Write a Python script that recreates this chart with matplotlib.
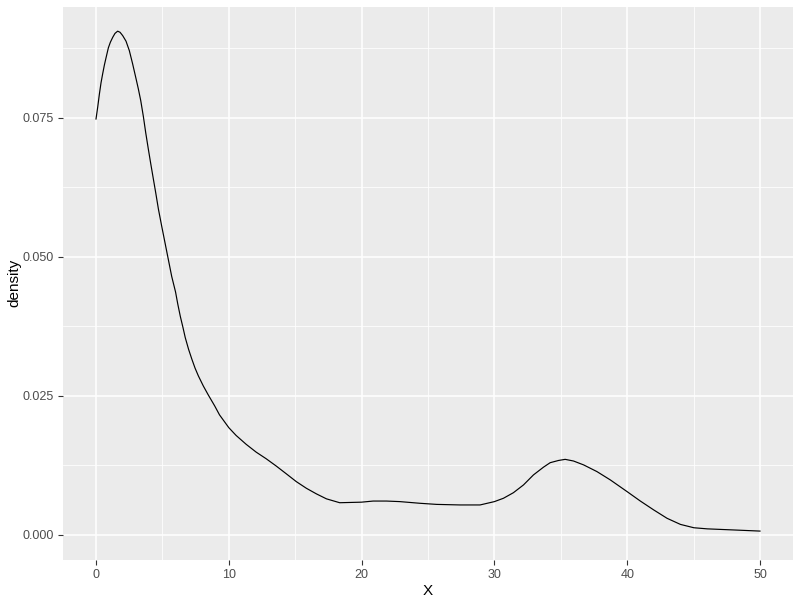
import matplotlib
matplotlib.use("Agg")
import matplotlib.pyplot as plt
from matplotlib.ticker import FixedLocator

plt.rcParams['font.family'] = ['Liberation Sans', 'DejaVu Sans']

# Density curve
x_vals = [0, 0.126, 0.25, 0.377, 0.5, 0.63, 0.754, 0.93, 1.08, 1.26, 1.43, 1.63, 1.81,
          2.01, 2.26, 2.51, 2.76, 3.02, 3.19, 3.37, 3.57, 3.74, 3.94, 4.12, 4.32, 4.5,
          4.7, 4.95, 5.2, 5.45, 5.7, 5.99, 6.16, 6.35, 6.55, 6.72, 6.97, 7.22, 7.46,
          7.71, 8.08, 8.45, 8.94, 9.3, 10, 10.55, 11.31, 12.06, 12.82, 13.57, 14.33,
          15.08, 15.84, 16.59, 17.35, 18.35, 19.99, 20.87, 21.87, 22.88, 24.39, 25.65,
          27.41, 28.92, 30, 30.68, 31.43, 32.19, 32.94, 33.7, 34.2, 34.83, 35.33, 35.96,
          36.72, 37.72, 38.73, 39.99, 40.99, 42.0, 43.0, 44.01, 45.02, 46.03, 48.04, 50]
density = [0.0748, 0.0769, 0.0792, 0.0813, 0.0829, 0.0845, 0.0858, 0.0876, 0.0886,
           0.0895, 0.0902, 0.0906, 0.0904, 0.0898, 0.0888, 0.0871, 0.0847, 0.0820,
           0.0802, 0.0781, 0.0752, 0.0724, 0.0694, 0.0668, 0.0640, 0.0615, 0.0586,
           0.0555, 0.0525, 0.0495, 0.0465, 0.0437, 0.0415, 0.0393, 0.0373, 0.0355,
           0.0334, 0.0316, 0.0300, 0.0286, 0.0268, 0.0252, 0.0232, 0.0216, 0.0193,
           0.0179, 0.0163, 0.0149, 0.0137, 0.0124, 0.0110, 0.0096, 0.0084, 0.0074,
           0.0065, 0.0058, 0.0059, 0.0061, 0.0061, 0.0060, 0.0057, 0.0055, 0.0054,
           0.0054, 0.0060, 0.0066, 0.0076, 0.0090, 0.0108, 0.0122, 0.0130, 0.0134,
           0.0136, 0.0133, 0.0126, 0.0114, 0.0099, 0.0078, 0.0061, 0.0045, 0.0030,
           0.0019, 0.0013, 0.0011, 0.0009, 0.0007]

x_ticks = [0, 10, 20, 30, 40, 50]
y_ticks = [0.000, 0.025, 0.050, 0.075]
y_tick_labels = ["0.000", "0.025", "0.050", "0.075"]

fig = plt.figure(figsize=(8, 6.05), dpi=100)
ax = fig.add_axes([62.8 / 800, 45 / 605, 730.4 / 800, 553.3 / 605])
ax.set_facecolor('#EBEBEB')

ax.plot(x_vals, density, color='black', lw=0.85, zorder=3)

ax.set_xlim(-2.5, 52.5)
ax.set_ylim(-0.0045, 0.095)

ax.xaxis.set_major_locator(FixedLocator(x_ticks))
ax.xaxis.set_minor_locator(FixedLocator([5, 15, 25, 35, 45]))
ax.yaxis.set_major_locator(FixedLocator(y_ticks))
ax.yaxis.set_minor_locator(FixedLocator([0.0125, 0.0375, 0.0625, 0.0875]))
ax.set_yticklabels(y_tick_labels)

ax.grid(which='major', color='white', lw=1.1)
ax.grid(which='minor', color='white', lw=0.55)
ax.set_axisbelow(True)

for s in ax.spines.values():
    s.set_visible(False)

ax.tick_params(which='major', length=3.5, width=0.8, color='#333333',
               labelcolor='#4D4D4D', labelsize=9, pad=3)
ax.tick_params(which='minor', length=0)

ax.set_xlabel('X', fontsize=11, color='black', labelpad=2)
ax.set_ylabel('density', fontsize=11, color='black', labelpad=0.8)

fig.savefig('out.png', dpi=100, facecolor='white')
